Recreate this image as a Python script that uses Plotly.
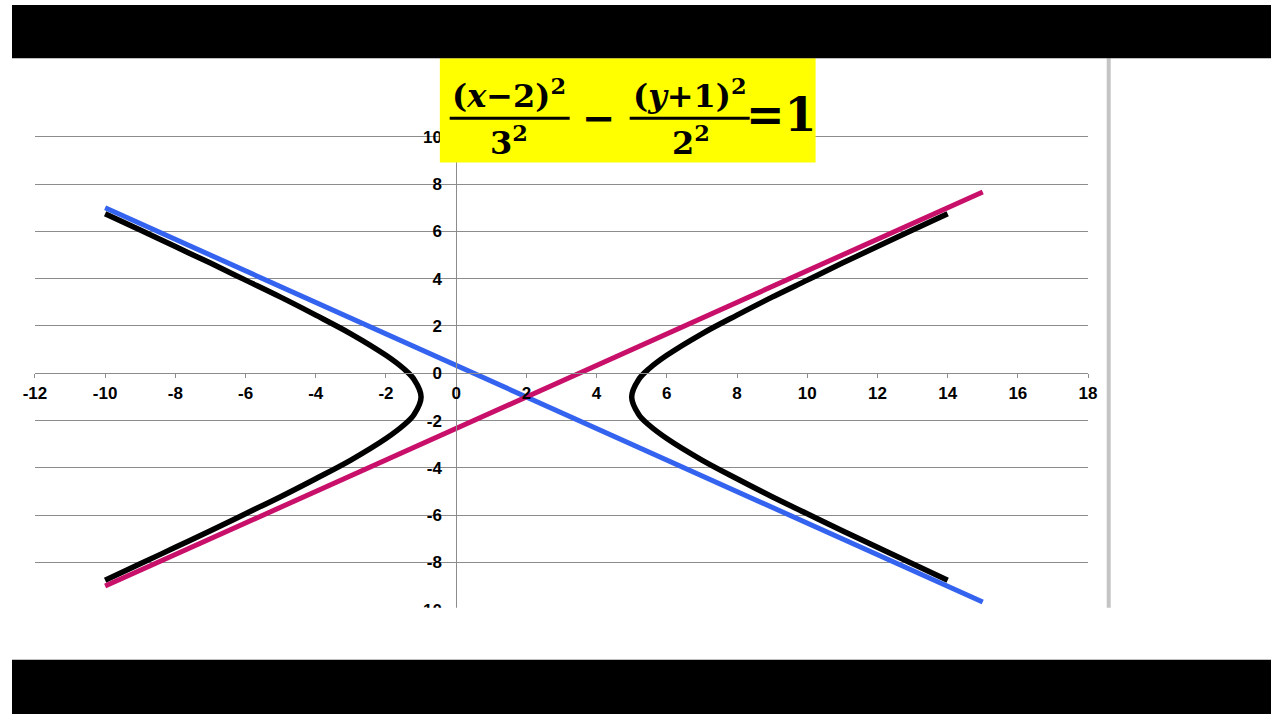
import plotly.graph_objects as go

W, H = 1280, 720

# hyperbola (x-2)^2/3^2 - (y+1)^2/2^2 = 1
left_x = [-10, -9, -8, -7, -6, -5, -4, -3, -2, -1.5, -1.2, -1,
          -1.2, -1.5, -2, -3, -4, -5, -6, -7, -8, -9, -10]
left_y = [6.75, 6.06, 5.36, 4.66, 3.94, 3.22, 2.46, 1.67, 0.76, 0.20, -0.26, -1,
          -1.74, -2.20, -2.76, -3.67, -4.46, -5.22, -5.94, -6.66, -7.36, -8.06, -8.75]
right_x = [14, 13, 12, 11, 10, 9, 8, 7, 6, 5.5, 5.2, 5,
           5.2, 5.5, 6, 7, 8, 9, 10, 11, 12, 13, 14]
right_y = left_y

# asymptotes
blue_x = [-10, 15]
blue_y = [7.0, -9.67]
red_x = [-10, 15]
red_y = [-9.0, 7.67]

x_ticks = [-12, -10, -8, -6, -4, -2, 0, 2, 4, 6, 8, 10, 12, 14, 16, 18]
x_labels = ['-12', '-10', '-8', '-6', '-4', '-2', '0', '2', '4', '6', '8', '10', '12', '14', '16', '18']
y_ticks = [-10, -8, -6, -4, -2, 0, 2, 4, 6, 8, 10]
y_labels = ['-10', '-8', '-6', '-4', '-2', '0', '2', '4', '6', '8', '10']


def px(x):
    return x / W


def py(y):
    return 1 - y / H


fig = go.Figure()
for xs, ys in [(left_x, left_y), (right_x, right_y)]:
    fig.add_trace(go.Scatter(x=xs, y=ys, mode='lines', line=dict(color='black', width=5.5, shape='spline'),
                             hoverinfo='skip'))
fig.add_trace(go.Scatter(x=blue_x, y=blue_y, mode='lines', line=dict(color='#3463ef', width=5)))
fig.add_trace(go.Scatter(x=red_x, y=red_y, mode='lines', line=dict(color='#c8106a', width=5)))

tick_font = dict(family='Liberation Sans', size=17, color='black', weight='bold')

fig.update_layout(
    autosize=True, margin=dict(l=0, r=0, t=0, b=0),
    paper_bgcolor='white', plot_bgcolor='white', showlegend=False,
    xaxis=dict(range=[-12, 18], domain=[px(23.3), px(1094)], anchor='free', position=py(374),
               tickvals=x_ticks, ticktext=x_labels, tickfont=tick_font, showgrid=False, zeroline=False,
               showline=True, linecolor='#8c8c8c', ticks='outside', ticklen=4, tickcolor='#8c8c8c'),
    yaxis=dict(range=[-10.15, 10.15], domain=[py(617.7), py(130.3)], anchor='free', position=px(451.7),
               tickvals=y_ticks, ticktext=y_labels, tickfont=tick_font, showgrid=True, gridcolor='#8c8c8c',
               zeroline=False, showline=True, linecolor='#8c8c8c', ticks='outside', ticklen=6,
               tickcolor='#8c8c8c', ticklabelstandoff=5),
)

shapes = [
    # yellow formula box
    dict(type='rect', xref='paper', yref='paper', x0=px(435), x1=px(817), y0=py(160), y1=py(54),
         fillcolor='#ffff00', line_width=0, layer='above'),
    # fraction bars
    dict(type='line', xref='paper', yref='paper', x0=px(445), x1=px(567), y0=py(115), y1=py(115),
         line=dict(color='black', width=3), layer='above'),
    dict(type='line', xref='paper', yref='paper', x0=px(628), x1=px(750), y0=py(115), y1=py(115),
         line=dict(color='black', width=3), layer='above'),
    # cropped bottom of the chart
    dict(type='rect', xref='paper', yref='paper', x0=0, x1=1, y0=py(665), y1=py(612),
         fillcolor='white', line_width=0, layer='above'),
    # window edge on the right
    dict(type='line', xref='paper', yref='paper', x0=px(1115), x1=px(1115), y0=py(612), y1=py(54),
         line=dict(color='#c4c4c4', width=4), layer='above'),
    # black bars top and bottom
    dict(type='rect', xref='paper', yref='paper', x0=0, x1=1, y0=py(54), y1=1,
         fillcolor='black', line_width=0, layer='above'),
    dict(type='rect', xref='paper', yref='paper', x0=0, x1=1, y0=0, y1=py(665),
         fillcolor='black', line_width=0, layer='above'),
]
fig.update_layout(shapes=shapes)

serif = dict(family='DejaVu Serif', color='black', weight='bold')
formula = [
    ('(<i>x</i>−2)<sup>2</sup>', 505, 90, 32),
    ('3<sup>2</sup>', 505, 138, 32),
    ('−', 597, 114, 40),
    ('(<i>y</i>+1)<sup>2</sup>', 689, 90, 32),
    ('2<sup>2</sup>', 690, 138, 32),
    ('=1', 782, 112, 46),
]
for text, x, y, size in formula:
    fig.add_annotation(text=text, xref='paper', yref='paper', x=px(x), y=py(y),
                       xanchor='center', yanchor='middle', showarrow=False,
                       font=dict(size=size, **serif))

fig.write_html("out.html", default_width='100vw', default_height='100vh',
               config={'displayModeBar': False},
               post_script="document.body.style.margin='0';document.body.style.overflow='hidden';"
                           "Plotly.Plots.resize(document.getElementById('{plot_id}'));")
